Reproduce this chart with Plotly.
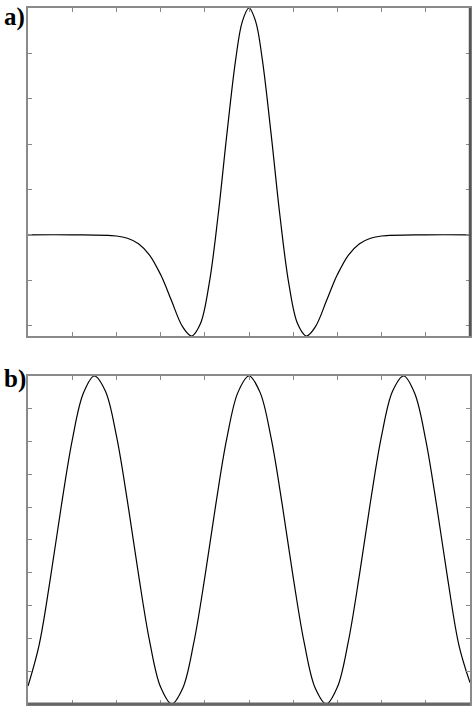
"""
Two stacked panels: a) Mexican-hat style wavelet, b) cosine wave.
"""

import plotly.graph_objects as go

# ---- panel a: wavelet ----
wav_x = [0, 1, 2, 2.25, 2.5, 2.75, 3, 3.1, 3.25, 3.5, 3.7, 3.9, 4.1, 4.3, 4.5, 4.7, 4.85, 5,
         5.15, 5.3, 5.5, 5.7, 5.9, 6.1, 6.3, 6.5, 6.75, 6.9, 7, 7.25, 7.5, 7.75, 8, 9, 10]
wav_y = [0, 0, -0.005, -0.015, -0.039, -0.089, -0.175, -0.219, -0.292, -0.406, -0.446, -0.392,
         -0.214, 0.084, 0.445, 0.775, 0.941, 1.0,
         0.941, 0.775, 0.445, 0.084, -0.214, -0.392, -0.446, -0.406, -0.292, -0.219, -0.175,
         -0.089, -0.039, -0.015, -0.005, 0, 0]

# ---- panel b: cosine wave ----
cos_x = [i * 0.25 for i in range(41)]
cos_y = [-0.89, -0.642, -0.245, 0.201, 0.608, 0.893, 1.0, 0.908, 0.636, 0.236, -0.210,
         -0.615, -0.897, -1.0, -0.904, -0.628, -0.228, 0.219, 0.622, 0.900, 1.0,
         0.900, 0.622, 0.219, -0.228, -0.628, -0.904, -1.0, -0.897, -0.615, -0.210,
         0.236, 0.636, 0.908, 1.0, 0.893, 0.608, 0.201, -0.245, -0.642, -0.87]

x_ticks = list(range(0, 11))

AXIS_GRAY = "#8a8a8a"

fig = go.Figure()
fig.add_trace(go.Scatter(x=wav_x, y=wav_y, mode="lines", line=dict(color="black", width=1.2, shape="spline"),
                         xaxis="x", yaxis="y", showlegend=False))
fig.add_trace(go.Scatter(x=cos_x, y=cos_y, mode="lines", line=dict(color="black", width=1.2, shape="spline"),
                         xaxis="x2", yaxis="y2", showlegend=False))

common_x = dict(range=[0, 10], tickvals=x_ticks, ticks="inside", ticklen=4, tickcolor=AXIS_GRAY,
                showticklabels=False, showgrid=False, zeroline=False, showline=True,
                linecolor=AXIS_GRAY, linewidth=1.5, mirror="ticks")
common_y = dict(ticks="inside", ticklen=4, tickcolor=AXIS_GRAY, showticklabels=False,
                showgrid=False, zeroline=False, showline=True, linecolor=AXIS_GRAY,
                linewidth=1.5, mirror="ticks", dtick=0.2, tick0=0)

fig.update_layout(
    width=474, height=706,
    margin=dict(l=28, r=2, t=8, b=2),
    plot_bgcolor="white", paper_bgcolor="white",
    xaxis=dict(domain=[0, 1], anchor="y", **common_x),
    yaxis=dict(domain=[0.5287, 1], anchor="x", range=[-0.446, 1.0], **common_y),
    xaxis2=dict(domain=[0, 1], anchor="y2", **common_x),
    yaxis2=dict(domain=[0, 0.4713], anchor="x2", range=[-1.0, 1.0], **common_y),
)

# heavier edges seen in the scan
fig.add_shape(type="line", xref="x domain", yref="y domain", x0=1, x1=1, y0=0, y1=1,
              line=dict(color="#555", width=2.5))
fig.add_shape(type="line", xref="x2 domain", yref="y2 domain", x0=0, x1=1, y0=0, y1=0,
              line=dict(color="#666", width=3))

for label, y, shift in [("a)", 1.0, -9), ("b)", 0.4713, -3)]:
    fig.add_annotation(text="<b>%s</b>" % label, xref="paper", yref="paper", x=-0.058, y=y,
                       xanchor="left", yanchor="middle", showarrow=False, yshift=shift,
                       font=dict(family="Liberation Serif", size=25, color="black"))

# drop the default page margin so the figure sits at the window's corner
fig.write_html("out.html", config={"displayModeBar": False},
               post_script="document.body.style.margin='0';")
